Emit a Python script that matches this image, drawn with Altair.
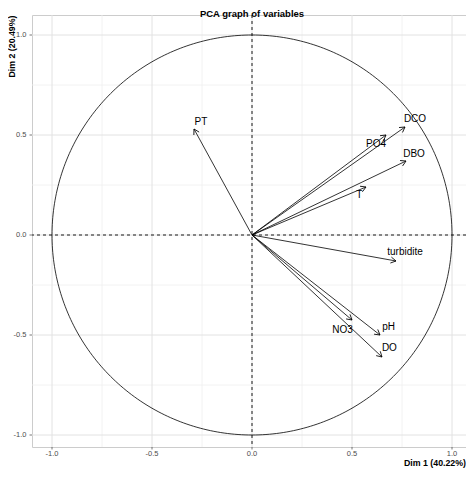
import altair as alt
import numpy as np
import pandas as pd

# ---- data ----
variables = ["PT", "DCO", "PO4", "DBO", "T", "turbidite", "NO3", "pH", "DO"]
dim1 = [-0.29, 0.765, 0.67, 0.77, 0.57, 0.72, 0.50, 0.64, 0.65]
dim2 = [0.53, 0.54, 0.50, 0.37, 0.24, -0.13, -0.425, -0.50, -0.61]
label_x = [-0.255, 0.815, 0.62, 0.81, 0.537, 0.765, 0.453, 0.683, 0.687]
label_y = [0.565, 0.58, 0.455, 0.405, 0.20, -0.087, -0.475, -0.46, -0.567]
major_ticks = [-1.0, -0.5, 0.0, 0.5, 1.0]
tick_labels = ["-1.0", "-0.5", "0.0", "0.5", "1.0"]
minor_ticks = [-0.75, -0.25, 0.25, 0.75]
title_text = ["PCA graph of variables"]
xtitle_text = ["Dim 1 (40.22%)"]
ytitle_text = ["Dim 2 (20.49%)"]

FONT = "Liberation Sans"
XDOM = [-1.1, 1.07]
YDOM = [-1.06, 1.1]
W, H = 434, 432

df = pd.DataFrame({"var": variables, "dim1": dim1, "dim2": dim2,
                   "lx": label_x, "ly": label_y})
df["ox"] = 0.0
df["oy"] = 0.0
df["angle"] = np.degrees(np.arctan2(-df["dim2"], df["dim1"])) % 360

t = np.linspace(0, 2 * np.pi, 361)
circle = pd.DataFrame({"i": np.arange(len(t)), "cx": np.cos(t), "cy": np.sin(t)})

ticks = pd.DataFrame({"v": major_ticks, "lab": tick_labels})
grid_minor = pd.DataFrame({"v": minor_ticks})
zero = pd.DataFrame({"v": [0.0]})

xs = alt.Scale(domain=XDOM, nice=False, zero=False)
ys = alt.Scale(domain=YDOM, nice=False, zero=False)


def X(f):
    return alt.X(f, scale=xs, axis=None)


def Y(f):
    return alt.Y(f, scale=ys, axis=None)


GRID_MINOR = "#efefef"
GRID_MAJOR = "#e2e2e2"

vminor = alt.Chart(grid_minor).mark_rule(color=GRID_MINOR, strokeWidth=0.8).encode(x=X("v:Q"))
hminor = alt.Chart(grid_minor).mark_rule(color=GRID_MINOR, strokeWidth=0.8).encode(y=Y("v:Q"))
vmajor = alt.Chart(ticks).mark_rule(color=GRID_MAJOR, strokeWidth=1).encode(x=X("v:Q"))
hmajor = alt.Chart(ticks).mark_rule(color=GRID_MAJOR, strokeWidth=1).encode(y=Y("v:Q"))

vzero = alt.Chart(zero).mark_rule(color="black", strokeWidth=0.9, strokeDash=[3, 3]).encode(x=X("v:Q"))
hzero = alt.Chart(zero).mark_rule(color="black", strokeWidth=0.9, strokeDash=[3, 3]).encode(y=Y("v:Q"))

circ = alt.Chart(circle).mark_line(color="black", strokeWidth=0.8).encode(
    x=X("cx:Q"), y=Y("cy:Q"), order="i:Q")

segs = alt.Chart(df).mark_rule(color="black", strokeWidth=0.8).encode(
    x=X("ox:Q"), x2="dim1:Q", y=Y("oy:Q"), y2="dim2:Q")

ARROW = "M -0.866 -0.5 L 0 0 L -0.866 0.5"
heads = alt.Chart(df).mark_point(shape=ARROW, filled=False, size=144,
                                 color="black", strokeWidth=0.8, opacity=1).encode(
    x=X("dim1:Q"), y=Y("dim2:Q"), angle=alt.Angle("angle:Q", scale=None))

labels = alt.Chart(df).mark_text(font=FONT, fontSize=10, color="black",
                                 align="center", baseline="middle").encode(
    x=X("lx:Q"), y=Y("ly:Q"), text="var:N")

# ---- axes (ticks, labels, titles) ----
TICK_C = "#555555"
LAB_C = "#4d4d4d"
xticks = alt.Chart(ticks).mark_rule(color=TICK_C, strokeWidth=0.8).encode(
    x=X("v:Q"), y=alt.value(H), y2=alt.value(H + 2.5))
yticks = alt.Chart(ticks).mark_rule(color=TICK_C, strokeWidth=0.8).encode(
    y=Y("v:Q"), x=alt.value(-2.5), x2=alt.value(0))
xlabels = alt.Chart(ticks).mark_text(font=FONT, fontSize=7.5, color=LAB_C,
                                     align="center", baseline="top").encode(
    x=X("v:Q"), y=alt.value(H + 3), text="lab:N")
ylabels = alt.Chart(ticks).mark_text(font=FONT, fontSize=7.5, color=LAB_C,
                                     align="right", baseline="middle").encode(
    y=Y("v:Q"), x=alt.value(-5.5), text="lab:N")

xtitle = alt.Chart(pd.DataFrame({"t": xtitle_text})).mark_text(
    font=FONT, fontSize=8.8, fontWeight="bold", color="black",
    align="right", baseline="alphabetic").encode(
    x=alt.value(W), y=alt.value(H + 19), text="t:N")
ytitle = alt.Chart(pd.DataFrame({"t": ytitle_text})).mark_text(
    font=FONT, fontSize=8.8, fontWeight="bold", color="black",
    align="right", baseline="alphabetic", angle=270).encode(
    x=alt.value(-17.5), y=alt.value(0.5), text="t:N")
title = alt.Chart(pd.DataFrame({"t": title_text})).mark_text(
    font=FONT, fontSize=9.5, fontWeight="bold", color="black",
    align="center", baseline="alphabetic").encode(
    x=alt.value(220), y=alt.value(1.5), text="t:N")

chart = alt.layer(vminor, hminor, vmajor, hmajor, vzero, hzero, circ,
                  segs, heads, labels, xticks, yticks, xlabels, ylabels,
                  xtitle, ytitle, title).properties(
    width=W, height=H,
    autosize=alt.AutoSizeParams(type="none"),
    padding={"left": 24, "top": 7, "right": 0, "bottom": 21},
).configure_view(stroke="#cccccc", strokeWidth=1)

chart.save("out.html", embed_options={"renderer": "svg", "actions": False})
